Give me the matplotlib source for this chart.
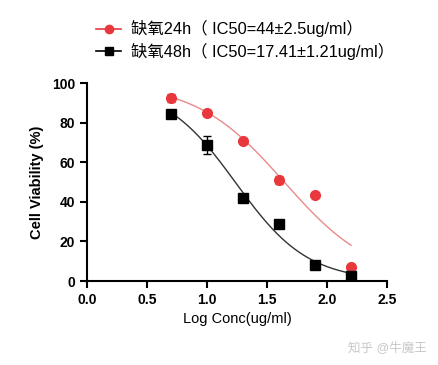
import numpy as np
import matplotlib
matplotlib.use("Agg")
import matplotlib.pyplot as plt

plt.rcParams['font.family'] = ['Liberation Sans', 'Noto Sans CJK SC', 'DejaVu Sans']

log_conc = [0.7, 1.0, 1.3, 1.6, 1.9, 2.2]
via_24h = [92.5, 85.0, 70.5, 51.0, 43.5, 7.0]
err_24h = [2.0, 0.8, 0.8, 2.0, 0.8, 0.8]
via_48h = [84.5, 68.5, 42.0, 29.0, 8.0, 2.5]
err_48h = [0.8, 4.5, 0.8, 0.8, 0.8, 0.8]

# four-parameter logistic fit parameters (top, bottom, logIC50, hill)
fit_24h = (100.0, 0.0, np.log10(44.0), 1.18)
fit_48h = (99.0, 0.0, np.log10(17.41), 1.45)

label_24h = '缺氧24h（ IC50=44±2.5ug/ml）'
label_48h = '缺氧48h（ IC50=17.41±1.21ug/ml）'

red = '#e8383d'
curve_red = '#e88a8a'

def logistic(x, p):
    top, bottom, lic, h = p
    return bottom + (top - bottom) / (1 + 10 ** ((x - lic) * h))

fig = plt.figure(figsize=(4.38, 3.65), dpi=100)
ax = fig.add_axes([0.1986, 0.2301, 0.685, 0.5425])

xs = np.linspace(min(log_conc), max(log_conc), 200)
ax.plot(xs, logistic(xs, fit_24h), color=curve_red, lw=1.0, zorder=2)
ax.plot(xs, logistic(xs, fit_48h), color='#333333', lw=1.0, zorder=2)

ax.errorbar(log_conc, via_24h, yerr=err_24h, fmt='o', color=red, ms=7,
            ecolor=red, elinewidth=1, capsize=3, zorder=3)
ax.errorbar(log_conc, via_48h, yerr=err_48h, fmt='s', color='black', ms=7,
            ecolor='black', elinewidth=1, capsize=3, zorder=3)

h1, = ax.plot([], [], marker='o', color=red, ms=6, lw=1.2)
h2, = ax.plot([], [], marker='s', color='black', ms=6, lw=1.2)
fig.legend([h1, h2], [label_24h, label_48h], loc='upper left',
           bbox_to_anchor=(0.205, 0.962), frameon=False, fontsize=11.8,
           handlelength=1.5, handletextpad=0.6, labelspacing=0.35,
           borderaxespad=0)

ax.set_xlim(0, 2.5)
ax.set_ylim(0, 100)
ax.set_xticks([0.0, 0.5, 1.0, 1.5, 2.0, 2.5])
ax.set_yticks([0, 20, 40, 60, 80, 100])
ax.xaxis.set_major_formatter(matplotlib.ticker.FormatStrFormatter('%.1f'))
for lbl in ax.get_xticklabels() + ax.get_yticklabels():
    lbl.set_fontweight('bold')
ax.tick_params(labelsize=10, width=1.5, length=5)
for s in ['top', 'right']:
    ax.spines[s].set_visible(False)
for s in ['left', 'bottom']:
    ax.spines[s].set_linewidth(1.5)
ax.set_xlabel('Log Conc(ug/ml)', fontsize=10.5, labelpad=4)
ax.set_ylabel('Cell Viability (%)', fontsize=10.5, fontweight='bold', labelpad=6)

fig.text(0.975, 0.03, '知乎 @牛魔王', fontsize=9, color='#c8c8c8', ha='right', va='bottom')

fig.savefig('out.png', dpi=100)
